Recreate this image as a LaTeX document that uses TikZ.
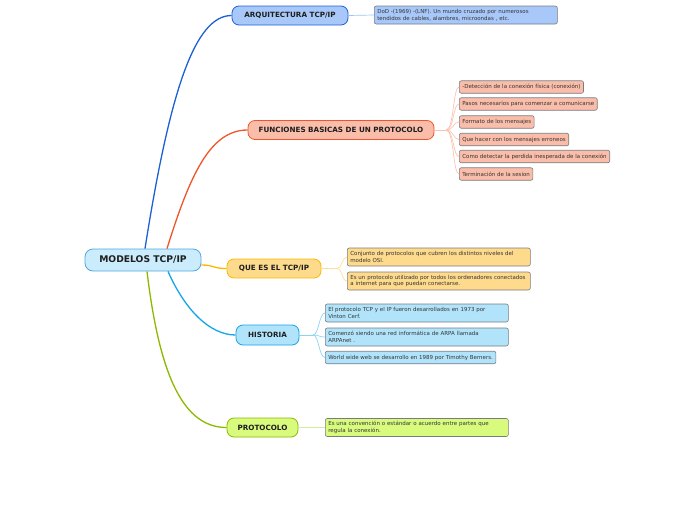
\documentclass[tikz,border=0pt]{standalone}
\usepackage{fontspec}
\setmainfont{DejaVu Sans}

\definecolor{rootfill}{RGB}{202,236,252}
\definecolor{rootline}{RGB}{80,168,222}
\definecolor{arqline}{RGB}{28,96,214}
\definecolor{arqfill}{RGB}{168,200,250}
\definecolor{arqtwig}{RGB}{160,196,246}
\definecolor{funline}{RGB}{240,84,42}
\definecolor{funfill}{RGB}{249,189,169}
\definecolor{funtwig}{RGB}{249,196,178}
\definecolor{queline}{RGB}{250,184,0}
\definecolor{quefill}{RGB}{254,218,140}
\definecolor{quetwig}{RGB}{254,222,150}
\definecolor{hisline}{RGB}{20,165,234}
\definecolor{hisfill}{RGB}{177,228,251}
\definecolor{histwig}{RGB}{140,210,245}
\definecolor{proline}{RGB}{140,184,0}
\definecolor{profill}{RGB}{216,251,126}
\definecolor{protwig}{RGB}{208,236,160}
\definecolor{leafline}{RGB}{120,124,130}
\definecolor{ink}{RGB}{30,30,30}

\begin{document}
\begin{tikzpicture}[x=1pt, y=-1pt,
  root/.style={draw=rootline, fill=rootfill, line width=0.8pt, rounded corners=8pt,
    minimum width=116pt, minimum height=22pt, inner sep=0pt, text=ink,
    font=\fontsize{9.2}{11}\selectfont\bfseries},
  branch/.style={line width=0.8pt, rounded corners=7pt, minimum height=19pt,
    inner sep=0pt, text=ink, font=\fontsize{7.2}{8.5}\selectfont\bfseries},
  leaf/.style={draw=leafline, line width=0.6pt, rounded corners=2pt, anchor=west,
    inner xsep=3pt, inner ysep=0pt, minimum height=12.5pt, align=left,
    text=ink!90, font=\fontsize{5.5}{6.8}\selectfont},
  wide/.style={text width=177pt, minimum height=18pt},
  stem/.style={line width=1.3pt},
  twig/.style={line width=0.7pt}]
  \useasboundingbox (0,0) rectangle (697,520);

  \node [root] (root) at (143,260) {MODELOS TCP/IP};

  % ramas
  \node [branch, draw=arqline, fill=arqfill, minimum width=116pt] (arq) at (290,15.5) {ARQUITECTURA TCP/IP};
  \node [branch, draw=funline, fill=funfill, minimum width=186pt] (fun) at (341,130) {FUNCIONES BASICAS DE UN PROTOCOLO};
  \node [branch, draw=queline, fill=quefill, minimum width=94pt]  (que) at (274,268.5) {QUE ES EL TCP/IP};
  \node [branch, draw=hisline, fill=hisfill, minimum width=63pt, minimum height=20pt] (his) at (267.5,335) {HISTORIA};
  \node [branch, draw=proline, fill=profill, minimum width=71pt]  (pro) at (262.5,427.5) {PROTOCOLO};

  \draw [stem, arqline] ([xshift=2pt]root.north) .. controls (170,90) and (195,15.5) .. (arq.west);
  \draw [stem, funline] ([xshift=24pt]root.north) .. controls (190,175) and (210,130) .. (fun.west);
  \draw [stem, queline] ([yshift=-5pt]root.east) .. controls (215,265) and (212,268.5) .. (que.west);
  \draw [stem, hisline] ([xshift=25pt]root.south) .. controls (185,310) and (210,335) .. (his.west);
  \draw [stem, proline] ([xshift=4pt]root.south) .. controls (160,380) and (185,427.5) .. (pro.west);

  % hojas
  \node [leaf, fill=arqfill, wide] (arq1) at (374,15) {DoD -(1969) -(LNF). Un mundo cruzado por numerosos\\tendidos de cables, alambres, microondas , etc.};
  \draw [twig, arqtwig] (arq.east) -- (arq1.west);

  \node [leaf, fill=funfill] (fun1) at (459,87)    {-Detección de la conexión física (conexión)};
  \node [leaf, fill=funfill] (fun2) at (459,104)   {Pasos necesarios para comenzar a comunicarse};
  \node [leaf, fill=funfill] (fun3) at (459,122)   {Formato de los mensajes};
  \node [leaf, fill=funfill] (fun4) at (459,139.5) {Que hacer con los mensajes erroneos};
  \node [leaf, fill=funfill] (fun5) at (459,156.5) {Como detectar la perdida inesperada de la conexión};
  \node [leaf, fill=funfill] (fun6) at (459,174)   {Terminación de la sesion};
  \coordinate (funk) at (446,130);
  \draw [twig, funtwig] (fun.east) -- (funk);
  \foreach \i in {1,...,6}
    \draw [twig, funtwig] (funk) .. controls +(8,0) and +(-6,0) .. (fun\i.west);

  \node [leaf, fill=quefill, wide] (que1) at (347,257) {Conjunto de protocolos que cubren los distintos niveles del\\modelo OSI.};
  \node [leaf, fill=quefill, wide] (que2) at (347,281) {Es un protocolo utilizado por todos los ordenadores conectados\\a internet para que puedan conectarse.};
  \coordinate (quek) at (337,268.5);
  \draw [twig, quetwig] (que.east) -- (quek);
  \foreach \i in {1,2}
    \draw [twig, quetwig] (quek) .. controls +(5,0) and +(-5,0) .. (que\i.west);

  \node [leaf, fill=hisfill, wide] (his1) at (325,313)   {El protocolo TCP y el IP fueron desarrollados en 1973 por\\Vinton Cerf.};
  \node [leaf, fill=hisfill, wide] (his2) at (325,337)   {Comenzó siendo una red informática de ARPA llamada\\ARPAnet .};
  \node [leaf, fill=hisfill]       (his3) at (325,357.5) {World wide web se desarrollo en 1989 por Timothy Berners.};
  \coordinate (hisk) at (313,335);
  \draw [twig, histwig] (his.east) -- (hisk);
  \foreach \i in {1,2,3}
    \draw [twig, histwig] (hisk) .. controls +(6,0) and +(-6,0) .. (his\i.west);

  \node [leaf, fill=profill, wide] (pro1) at (325,427.5) {Es una convención o estándar o acuerdo entre partes que\\regula la conexión.};
  \draw [twig, protwig] (pro.east) -- (pro1.west);
\end{tikzpicture}
\end{document}
